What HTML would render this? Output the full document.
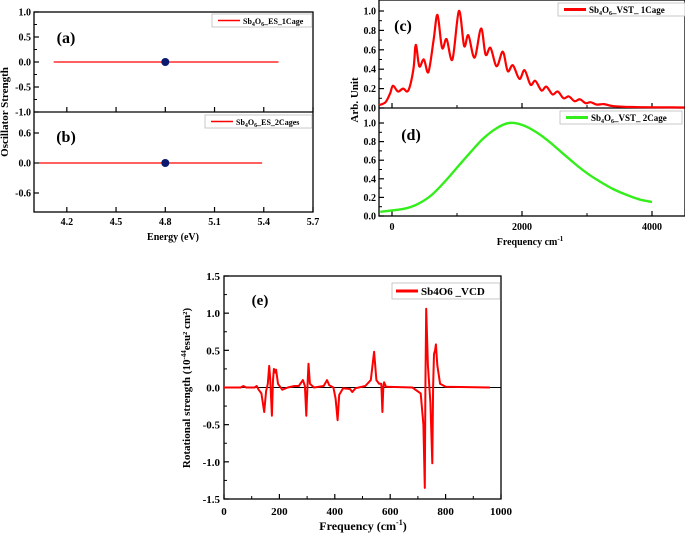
<!DOCTYPE html>
<html><head><meta charset="utf-8"><style>
html,body{margin:0;padding:0;background:#fff;}
svg{display:block;font-family:"Liberation Serif",serif;font-weight:bold;}
</style></head><body>
<svg id="fig" width="685" height="535" viewBox="0 0 685 535" xmlns="http://www.w3.org/2000/svg"></svg>
<script>
// ---- data ----
const aLine=[4.12,5.49]; const aDot=[4.8,0];
const bLine=[4.03,5.39]; const bDot=[4.8,0];
const abXTicks=[4.2,4.5,4.8,5.1,5.4,5.7];
const aYTicks=[1.0,0.5,0.0,-0.5,-1.0];
const bYTicks=[0.6,0.0,-0.6];
const cFreq=[-200,-100,-30,15,90,170,250,330,366,420,490,560,640,700,770,840,930,1030,1110,1175,1270,1370,1440,1515,1610,1705,1780,1860,1960,2040,2130,2205,2300,2375,2470,2550,2640,2720,2810,2890,2980,3055,3150,3260,3400,3700,4500];
const cVal=[0.03,0.06,0.15,0.23,0.17,0.2,0.18,0.4,0.65,0.43,0.5,0.37,0.7,0.96,0.62,0.71,0.5,1.0,0.64,0.75,0.52,0.82,0.55,0.62,0.43,0.58,0.38,0.44,0.3,0.39,0.24,0.28,0.18,0.22,0.14,0.17,0.1,0.12,0.07,0.09,0.05,0.06,0.035,0.04,0.02,0.01,0.005];
const dFreq=[-180,0,200,400,600,800,1000,1200,1400,1600,1800,2000,2200,2400,2600,2800,3000,3200,3400,3600,3800,4000];
const dVal=[0.045,0.06,0.08,0.13,0.22,0.36,0.52,0.68,0.83,0.94,1.0,0.98,0.91,0.81,0.69,0.57,0.46,0.37,0.29,0.23,0.18,0.15];
const cdYTicks=[0,0.2,0.4,0.6,0.8,1.0];
const cdXTicks=[0,2000,4000];
const eFreq=[0,60,70,80,110,118,125,135,145,152,158,163,167,173,177,180,185,188,195,210,230,255,270,285,292,297,301,305,310,325,360,372,380,395,403,410,416,430,455,463,475,510,530,542,550,560,568,572,575,578,585,680,710,720,725,727,730,736,745,752,755,758,762,765,770,780,800,960];
const eVal=[0,0,0.02,0,0,0.02,-0.03,-0.08,-0.33,-0.05,0.05,0.29,0.1,-0.38,0.1,0.25,0.2,0.24,0.05,-0.03,0,0.02,0.02,0.1,0.02,-0.38,0,0.32,0.05,0,0.02,0.1,0.03,0,-0.15,-0.44,-0.1,-0.01,-0.02,-0.06,-0.01,0.02,0.1,0.48,0.1,0.05,0.05,-0.33,0,0.07,0.01,0,-0.08,-0.5,-1.35,0,1.06,0.3,-0.2,-1.02,0,0.45,0.5,0.58,0.3,0.05,0.01,0];
const eYTicks=[1.5,1.0,0.5,0.0,-0.5,-1.0,-1.5];
const eXTicks=[0,200,400,600,800,1000];
// ---- helpers ----
const svg=document.getElementById('fig');const NS='http://www.w3.org/2000/svg';
function el(tag,attrs,parent){const e=document.createElementNS(NS,tag);for(const k in attrs)e.setAttribute(k,attrs[k]);(parent||svg).appendChild(e);return e;}
function txt(x,y,s,size,anchor,parent){const t=el('text',{x:x,y:y,'font-size':size,'text-anchor':anchor||'middle',fill:'#000'},parent);t.textContent=s;return t;}
function lin(d0,d1,p0,p1){return v=>p0+(v-d0)/(d1-d0)*(p1-p0);}
function smooth(pts){let d='M'+pts[0][0].toFixed(1)+','+pts[0][1].toFixed(1);for(let i=0;i<pts.length-1;i++){const p0=pts[i-1]||pts[i],p1=pts[i],p2=pts[i+1],p3=pts[i+2]||p2;const c1=[p1[0]+(p2[0]-p0[0])/6,p1[1]+(p2[1]-p0[1])/6],c2=[p2[0]-(p3[0]-p1[0])/6,p2[1]-(p3[1]-p1[1])/6];d+='C'+c1[0].toFixed(1)+','+c1[1].toFixed(1)+' '+c2[0].toFixed(1)+','+c2[1].toFixed(1)+' '+p2[0].toFixed(1)+','+p2[1].toFixed(1);}return d;}
function yTicks(g,x0,ticks,sy,labels){ticks.forEach(v=>{el('line',{x1:x0,x2:x0+5,y1:sy(v),y2:sy(v),stroke:'#000','stroke-width':1.2},g);if(labels)txt(x0-3,sy(v)+3.5,v.toFixed(1),10,'end',g);});}
function legend(g,x,y,w,color,label,sub){el('rect',{x:x,y:y,width:w,height:13,fill:'#fff',stroke:'#bbb','stroke-width':0.8},g);el('line',{x1:x+6,x2:x+28,y1:y+6.5,y2:y+6.5,stroke:color,'stroke-width':sub?1.5:3},g);const t=txt(x+31,y+10,'',sub?8:9,'start',g);t.innerHTML=label;}
// ---- panel a/b ----
const gab=el('g',{});


const sxab=lin(4.0,5.7,34,313);
const sya=lin(-1,1,112,12), syb=lin(-0.98,1.02,212,112);
el('rect',{x:34,y:12,width:279,height:200,fill:'none',stroke:'#000','stroke-width':1.3},gab);
el('line',{x1:34,x2:313,y1:112,y2:112,stroke:'#000','stroke-width':1.3},gab);
yTicks(gab,34,aYTicks,sya,true);yTicks(gab,34,bYTicks,syb,true);
[0.75,0.25,-0.25,-0.75].forEach(v=>el('line',{x1:34,x2:37,y1:sya(v),y2:sya(v),stroke:'#000'},gab));
abXTicks.forEach(v=>{el('line',{x1:sxab(v),x2:sxab(v),y1:212,y2:207,stroke:'#000','stroke-width':1.2},gab);el('line',{x1:sxab(v),x2:sxab(v),y1:112,y2:107,stroke:'#000','stroke-width':1.2},gab);txt(sxab(v),225,v.toFixed(1),10,'middle',gab);});
el('line',{x1:sxab(aLine[0]),x2:sxab(aLine[1]),y1:sya(0),y2:sya(0),stroke:'#f00','stroke-width':1.3,},gab);
el('circle',{cx:sxab(aDot[0]),cy:sya(aDot[1]),r:4,fill:'#0a1a6e',},gab);
el('line',{x1:sxab(bLine[0]),x2:sxab(bLine[1]),y1:syb(0),y2:syb(0),stroke:'#f00','stroke-width':1.3,},gab);
el('circle',{cx:sxab(bDot[0]),cy:syb(bDot[1]),r:4,fill:'#0a1a6e',},gab);
txt(66,43,'(a)',16,'middle',gab);txt(66,142,'(b)',16,'middle',gab);
legend(gab,212,14,100,'#f00','Sb<tspan font-size="6" dy="2">4</tspan><tspan dy="-2">O</tspan><tspan font-size="6" dy="2">6</tspan><tspan dy="-2">_ES_1Cage</tspan>',1);
legend(gab,205,115,107,'#f00','Sb<tspan font-size="6" dy="2">4</tspan><tspan dy="-2">O</tspan><tspan font-size="6" dy="2">6</tspan><tspan dy="-2">_ES_2Cages</tspan>',1);
const yl=txt(0,0,'Oscillator Strength',11,'middle',gab);yl.setAttribute('transform','translate(8,112) rotate(-90)');
txt(173,240,'Energy (eV)',10,'middle',gab);
// ---- panel c/d ----
const gcd=el('g',{});


const sxcd=lin(0,2000,392,522);
const syc=lin(0,1,108,11), syd=lin(0,1,216,123);
el('rect',{x:379,y:0,width:306,height:216,fill:'none',stroke:'#000','stroke-width':1.3},gcd);
el('line',{x1:379,x2:685,y1:108,y2:108,stroke:'#000','stroke-width':1.3},gcd);
yTicks(gcd,379,cdYTicks,syc,true);yTicks(gcd,379,cdYTicks,syd,true);
[0.1,0.3,0.5,0.7,0.9].forEach(v=>{el('line',{x1:379,x2:382,y1:syc(v),y2:syc(v),stroke:'#000'},gcd);el('line',{x1:379,x2:382,y1:syd(v),y2:syd(v),stroke:'#000'},gcd);});
cdXTicks.forEach(v=>{el('line',{x1:sxcd(v),x2:sxcd(v),y1:216,y2:211,stroke:'#000','stroke-width':1.2},gcd);el('line',{x1:sxcd(v),x2:sxcd(v),y1:108,y2:103,stroke:'#000','stroke-width':1.2},gcd);txt(sxcd(v),230,String(v),10,'middle',gcd);});
[1000,3000].forEach(v=>{el('line',{x1:sxcd(v),x2:sxcd(v),y1:216,y2:213,stroke:'#000'},gcd);el('line',{x1:sxcd(v),x2:sxcd(v),y1:108,y2:105,stroke:'#000'},gcd);});
const cp=el('path',{d:smooth(cFreq.map((f,i)=>[Math.max(379,sxcd(f)),syc(cVal[i])])),fill:'none',stroke:'#f00','stroke-width':2.2},gcd);

const dp=el('path',{d:smooth(dFreq.map((f,i)=>[sxcd(f),syd(dVal[i])])),fill:'none',stroke:'#33ee1a','stroke-width':2.4},gcd);

txt(403,31,'(c)',16,'middle',gcd);txt(411,140,'(d)',16,'middle',gcd);
legend(gcd,558,3,127,'#f00','Sb<tspan font-size="6" dy="2">4</tspan><tspan dy="-2">O</tspan><tspan font-size="6" dy="2">6</tspan><tspan dy="-2">_VST_ 1Cage</tspan>',0);
legend(gcd,560,111,122,'#33ee1a','Sb<tspan font-size="6" dy="2">4</tspan><tspan dy="-2">O</tspan><tspan font-size="6" dy="2">6</tspan><tspan dy="-2">_VST_ 2Cage</tspan>',0);
const yl2=txt(0,0,'Arb. Unit',11,'middle',gcd);yl2.setAttribute('transform','translate(358,100) rotate(-90)');
const xl2=txt(530,245,'Frequency cm',10,'middle',gcd);xl2.innerHTML='Frequency cm<tspan font-size="7" dy="-4">-1</tspan>';
// ---- panel e ----
const ge=el('g',{});


const sxe=lin(0,1000,224,501), sye=lin(-1.5,1.5,499,276);
el('rect',{x:224,y:276,width:277,height:223,fill:'none',stroke:'#000','stroke-width':1.3},ge);
el('line',{x1:224,x2:501,y1:sye(0),y2:sye(0),stroke:'#000','stroke-width':1},ge);
yTicks(ge,224,eYTicks,sye,false);
eYTicks.forEach(v=>txt(220,sye(v)+4,v.toFixed(1),11,'end',ge));
[1.25,0.75,0.25,-0.25,-0.75,-1.25].forEach(v=>el('line',{x1:224,x2:227,y1:sye(v),y2:sye(v),stroke:'#000'},ge));
eXTicks.forEach(v=>{el('line',{x1:sxe(v),x2:sxe(v),y1:499,y2:494,stroke:'#000','stroke-width':1.2},ge);txt(sxe(v),515,String(v),11,'middle',ge);});
[100,300,500,700,900].forEach(v=>el('line',{x1:sxe(v),x2:sxe(v),y1:499,y2:496,stroke:'#000'},ge));
const ep=el('path',{d:'M'+eFreq.map((f,i)=>sxe(f).toFixed(1)+','+sye(eVal[i]).toFixed(1)).join('L'),fill:'none',stroke:'#f00','stroke-width':2,'stroke-linejoin':'round'},ge);

txt(260,305,'(e)',15,'middle',ge);
el('rect',{x:392,y:283,width:108,height:16,fill:'#fff',stroke:'#bbb','stroke-width':0.8},ge);
el('line',{x1:396,x2:418,y1:291,y2:291,stroke:'#f00','stroke-width':3},ge);
const le=txt(421,295,'',11,'start',ge);le.innerHTML='Sb4O6 _VCD';
const yl3=txt(0,0,'',11,'middle',ge);yl3.innerHTML='Rotational strength (10<tspan font-size="7" dy="-4">-44</tspan><tspan dy="4">esu² cm²)</tspan>';yl3.setAttribute('transform','translate(190,388) rotate(-90)');
const xl3=txt(363,530,'',12,'middle',ge);xl3.innerHTML='Frequency (cm<tspan font-size="8" dy="-5">-1</tspan><tspan dy="5">)</tspan>';
</script>
</body></html>
